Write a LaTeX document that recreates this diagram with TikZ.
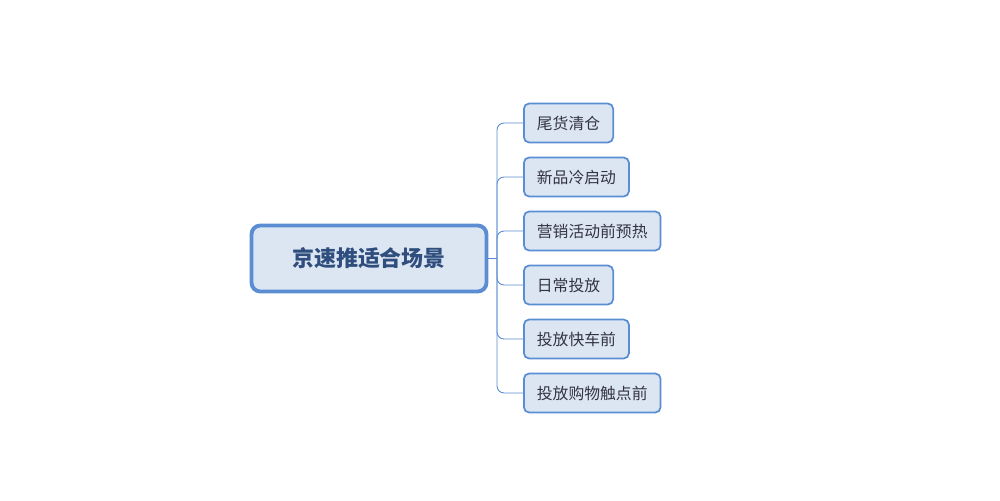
\documentclass[tikz,border=0pt]{standalone}
\usepackage{fontspec}
\newfontfamily\cjk{Noto Sans CJK SC}
\usetikzlibrary{positioning}
\definecolor{boxfill}{HTML}{DCE6F2}
\definecolor{boxline}{HTML}{5B8DD3}
\definecolor{roottext}{HTML}{2F4E7E}
\definecolor{leaftext}{HTML}{333344}
\tikzset{
  root/.style = {rectangle, draw=boxline, line width=2.2pt, fill=boxfill,
    rounded corners=5pt, minimum width=4.7cm, minimum height=1.32cm,
    font=\cjk\fontsize{12.5}{14}\selectfont\bfseries, text=roottext},
  leaf/.style = {rectangle, draw=boxline, line width=1pt, fill=boxfill,
    rounded corners=3pt, minimum height=0.78cm, inner xsep=0.26cm,
    font=\cjk\fontsize{9}{11}\selectfont, text=leaftext, anchor=west},
  link/.style = {draw=boxline, line width=0.5pt, rounded corners=4pt}
}
\begin{document}
\begin{tikzpicture}[x=0.02cm, y=-0.02cm]
    \useasboundingbox (0,0) rectangle (1000,500);
    % Place nodes
    \node [root] (main) at (369,258.5) {京速推适合场景};
    \coordinate (trunk) at (497,258.5);
    \node [leaf] (c1) at (523,123) {尾货清仓};
    \node [leaf] (c2) at (523,177) {新品冷启动};
    \node [leaf] (c3) at (523,231) {营销活动前预热};
    \node [leaf] (c4) at (523,285) {日常投放};
    \node [leaf] (c5) at (523,339) {投放快车前};
    \node [leaf] (c6) at (523,393) {投放购物触点前};
    % Draw edges
    \path [link] (main.east) -- (trunk);
    \foreach \c in {c1,c2,c3,c4,c5,c6}
        \path [link] (trunk) |- (\c.west);
\end{tikzpicture}
\end{document}
